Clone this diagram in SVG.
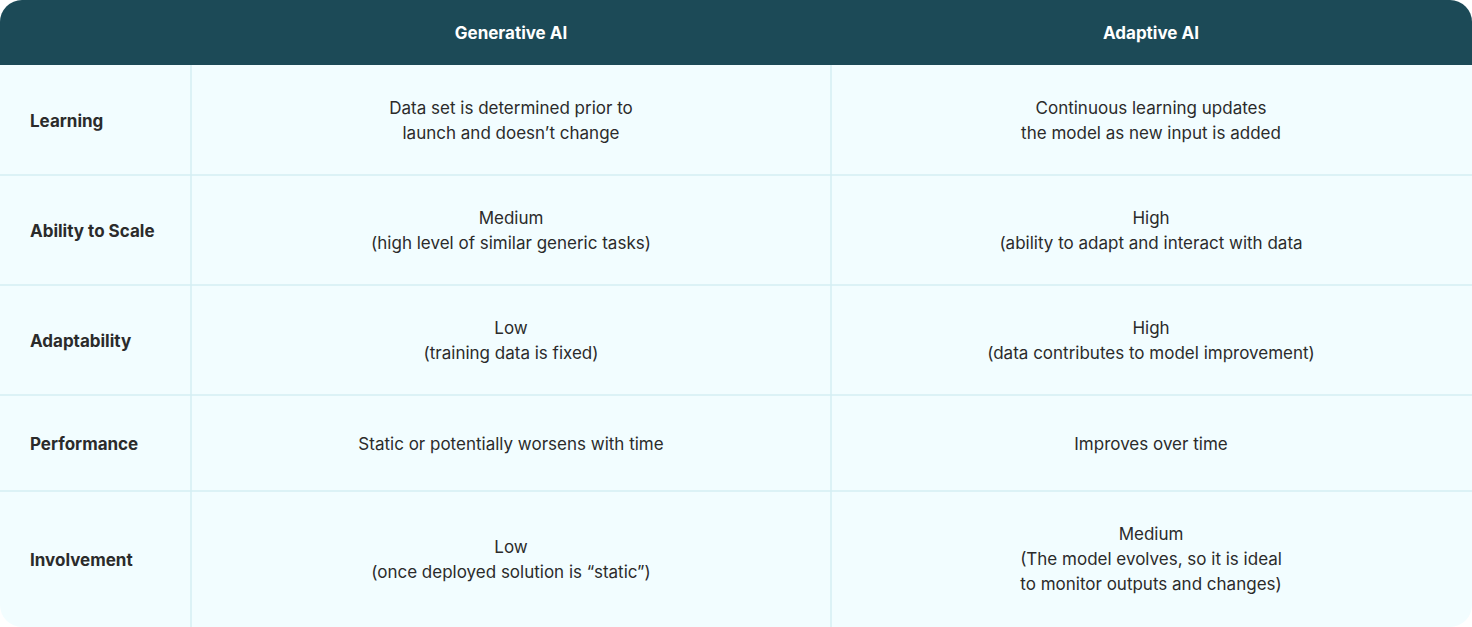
<svg xmlns="http://www.w3.org/2000/svg" width="1472" height="627" viewBox="0 0 1472 627">
<style>
text{font-family:Inter,"Liberation Sans",sans-serif;font-size:17px;fill:#2b2b2b}
.h{fill:#fff;font-weight:700;text-anchor:middle}
.r{font-weight:700}
.c{text-anchor:middle}
.l{stroke:#d5eef3;stroke-width:1.5}
</style>
<rect x="0" y="0" width="1472" height="627" rx="22" fill="#f2fdff"/>
<path d="M0 65 V22 A22 22 0 0 1 22 0 H1450 A22 22 0 0 1 1472 22 V65 Z" fill="#1c4a57"/>
<g id="grid">
<line class="l" x1="191" y1="65" x2="191" y2="627"/>
<line class="l" x1="831" y1="65" x2="831" y2="627"/>
<line class="l" x1="0" y1="175" x2="1472" y2="175"/>
<line class="l" x1="0" y1="285" x2="1472" y2="285"/>
<line class="l" x1="0" y1="395" x2="1472" y2="395"/>
<line class="l" x1="0" y1="491" x2="1472" y2="491"/>
</g>
<g id="header"><text class="h" x="511" y="39">Generative AI</text><text class="h" x="1151" y="39">Adaptive AI</text></g>
<g id="row1"><text class="r" x="30" y="127">Learning</text>
<text class="c" x="511" y="114">Data set is determined prior to</text><text class="c" x="511" y="139">launch and doesn’t change</text>
<text class="c" x="1151" y="114">Continuous learning updates</text><text class="c" x="1151" y="139">the model as new input is added</text></g>
<g id="row2"><text class="r" x="30" y="237">Ability to Scale</text>
<text class="c" x="511" y="224">Medium</text><text class="c" x="511" y="249">(high level of similar generic tasks)</text>
<text class="c" x="1151" y="224">High</text><text class="c" x="1151" y="249">(ability to adapt and interact with data</text></g>
<g id="row3"><text class="r" x="30" y="347">Adaptability</text>
<text class="c" x="511" y="334">Low</text><text class="c" x="511" y="359">(training data is fixed)</text>
<text class="c" x="1151" y="334">High</text><text class="c" x="1151" y="359">(data contributes to model improvement)</text></g>
<g id="row4"><text class="r" x="30" y="450">Performance</text>
<text class="c" x="511" y="450">Static or potentially worsens with time</text>
<text class="c" x="1151" y="450">Improves over time</text></g>
<g id="row5"><text class="r" x="30" y="566">Involvement</text>
<text class="c" x="511" y="553">Low</text><text class="c" x="511" y="578">(once deployed solution is “static”)</text>
<text class="c" x="1151" y="540">Medium</text><text class="c" x="1151" y="565">(The model evolves, so it is ideal</text><text class="c" x="1151" y="590">to monitor outputs and changes)</text></g>
</svg>
